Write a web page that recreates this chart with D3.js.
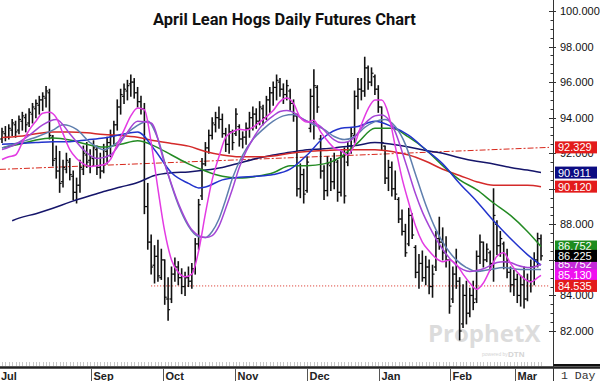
<!DOCTYPE html>
<html><head><meta charset="utf-8">
<script src="https://cdn.jsdelivr.net/npm/d3@7"></script>
<style>html,body{margin:0;padding:0;background:#fff;}svg{display:block;}</style>
</head><body>
<script>
// ---------- DATA ----------
const highs = [93.4,93.5,93.6,93.9,93.8,94.1,94.3,94.2,94.5,94.8,
95.0,95.2,95.4,95.75,95.6,93.0,92.4,92.1,91.6,92.0,
91.7,91.0,90.6,91.6,92.4,92.6,92.2,92.7,92.4,92.0,
92.5,92.9,93.3,93.8,95.0,95.6,95.9,96.1,96.4,96.2,
95.7,95.2,94.8,90.3,87.4,86.8,87.1,86.6,86.0,85.0,
85.6,86.1,85.9,85.5,85.3,85.6,85.8,87.2,89.4,91.7,
92.6,93.3,94.0,94.3,94.6,94.2,93.4,93.6,93.3,94.5,
93.6,93.2,93.7,94.3,94.6,94.5,94.9,94.7,95.2,95.7,
96.0,96.4,96.2,95.9,96.1,95.6,95.0,94.2,91.4,91.1,
91.8,95.6,96.7,95.8,93.0,91.3,91.8,91.7,92.0,91.6,
92.1,92.3,92.6,93.4,95.5,96.2,96.2,97.4,96.9,96.8,
96.4,95.8,94.6,92.4,91.6,91.5,91.0,89.5,88.8,88.0,
88.9,88.6,86.8,86.3,86.5,86.2,86.0,85.7,87.6,88.4,
87.8,87.3,86.0,85.6,86.6,85.0,84.6,84.8,84.4,84.8,
86.5,87.4,87.0,86.9,86.5,90.0,88.2,87.6,87.0,86.6,
85.6,85.4,85.2,85.1,85.6,85.2,86.0,86.4,87.5,87.4];
const lows = [92.6,92.7,92.8,93.0,92.9,93.1,93.3,93.2,93.5,93.7,
94.0,94.2,94.4,94.6,92.8,91.3,90.6,89.8,90.1,90.9,
90.5,89.4,89.2,89.8,90.8,91.2,90.9,91.3,90.8,90.6,
90.9,91.4,91.8,92.5,93.3,94.2,94.8,95.0,95.2,95.1,
94.6,94.2,88.6,86.6,85.2,84.7,84.8,84.9,83.5,82.6,
83.6,84.8,84.6,84.1,84.0,84.5,84.4,85.2,86.6,89.4,
91.3,92.0,92.8,93.2,93.4,92.9,92.1,92.0,92.2,93.0,
92.4,92.3,92.5,92.9,93.3,93.4,93.6,93.6,93.9,94.3,
94.7,95.0,95.2,94.8,95.0,94.4,93.8,89.6,89.5,89.2,
89.8,93.2,92.8,94.3,90.6,89.4,89.6,89.9,90.0,89.3,
89.6,89.2,91.3,92.0,92.6,94.5,95.0,95.2,95.6,95.8,
95.3,94.3,92.2,90.3,89.9,89.6,89.4,88.1,87.4,86.2,
86.8,87.2,85.0,84.4,84.8,84.6,84.1,83.9,85.4,86.6,
86.0,85.6,83.0,83.6,84.4,81.5,82.2,82.4,82.8,83.2,
83.6,85.8,85.6,85.9,85.4,84.8,86.3,86.2,85.5,85.0,
84.2,84.0,83.6,83.4,83.3,83.7,84.2,84.6,85.6,86.0];
const opens = [92.8,93.1,92.9,93.3,93.6,93.3,93.8,94.0,93.7,94.2,
94.5,94.7,95.0,95.1,95.4,92.9,91.7,91.0,90.4,91.1,
91.5,90.7,89.8,90.2,91.1,91.9,91.6,91.7,92.2,91.2,
91.0,92.1,92.6,93.0,93.6,94.6,95.2,95.5,95.9,96.0,
95.4,94.9,94.5,89.0,87.0,85.7,86.2,85.0,86.0,83.8,
83.8,85.2,85.6,85.0,84.5,85.0,84.8,85.5,86.9,89.6,
91.4,92.3,93.0,93.6,94.0,93.9,93.1,92.5,93.2,93.1,
93.5,92.8,92.9,93.4,94.0,94.2,93.8,94.5,94.0,95.0,
95.4,95.7,96.0,95.6,95.3,95.5,94.8,94.1,90.0,90.8,
89.9,93.4,95.2,95.7,92.8,91.0,89.9,91.3,90.4,91.5,
89.8,91.8,91.5,92.4,93.0,95.2,95.6,95.5,96.8,96.0,
96.3,95.6,94.6,92.4,90.6,91.2,90.0,89.4,88.3,87.6,
86.9,88.5,86.7,85.3,85.8,85.0,85.6,84.5,85.6,87.2,
87.0,86.4,86.0,83.8,85.2,84.8,82.4,84.0,83.0,84.0,
83.8,86.2,87.0,86.0,86.4,85.8,88.0,86.8,86.9,85.9,
85.3,84.6,84.9,84.0,84.6,83.8,84.8,85.6,86.0,87.2];
const closes = [93.2,92.9,93.4,93.7,93.2,93.9,94.1,93.6,94.3,94.6,
94.8,95.0,95.2,95.5,93.0,91.6,91.0,90.3,91.2,91.6,
90.8,89.8,90.2,91.2,92.0,91.5,91.8,92.3,91.2,91.0,
92.2,92.6,93.0,93.6,94.6,95.3,95.6,95.8,96.0,95.4,
94.9,94.5,89.0,87.0,85.6,86.2,85.1,86.0,83.9,83.2,
85.2,85.6,85.0,84.5,85.0,84.8,85.5,86.9,89.1,91.4,
92.3,93.0,93.7,94.0,93.9,93.1,92.5,93.2,92.6,94.2,
92.8,92.9,93.4,94.0,94.2,93.8,94.6,94.0,95.0,95.4,
95.7,96.1,95.6,95.3,95.8,94.8,94.1,90.0,90.8,89.7,
91.5,95.2,95.8,94.6,91.0,89.9,91.4,90.4,91.6,89.8,
91.8,89.6,92.4,93.1,95.2,95.6,95.5,96.8,96.0,96.5,
95.6,94.6,92.6,90.6,91.2,90.0,89.7,88.3,87.6,86.4,
88.5,87.4,85.3,85.8,85.0,85.6,84.5,85.2,87.2,87.0,
86.4,86.0,83.4,85.2,84.8,82.0,84.0,83.0,84.0,83.6,
86.2,87.0,86.0,86.6,85.8,88.5,86.8,87.2,85.9,85.3,
84.6,84.9,84.0,84.6,83.8,84.8,85.6,86.0,87.2,86.225];

// month boundaries (bar index) and labels
const monthLabels = ["Jul","Sep","Oct","Nov","Dec","Jan","Feb","Mar"];
const monthPos = [-0.6, 26.3, 47.5, 68.6, 89.9, 111.2, 132.2, 151.2];
const yTickValues = [82,84,86,88,90,92,94,96,98,100];

// moving averages: [bar index, value]
const maNavy = [[3,88.2],[5,88.35],[10,88.6],[15,88.9],[20,89.25],[25,89.55],[30,89.85],[35,90.1],[40,90.35],[45,90.75],[50,90.9],[55,90.95],[60,91.05],[65,91.2],[70,91.45],[75,91.7],[80,91.9],[85,92.05],[90,92.2],[95,92.25],[100,92.35],[105,92.45],[110,92.6],[115,92.5],[120,92.35],[125,92.15],[130,92.0],[135,91.75],[140,91.55],[145,91.4],[150,91.2],[155,91.05],[159,90.911]];
const maRed = [[0,92.88],[5,92.95],[10,93.1],[15,93.2],[20,93.2],[25,93.15],[30,93.05],[35,93.0],[40,92.9],[45,92.7],[50,92.55],[55,92.4],[60,92.1],[65,91.9],[70,91.8],[75,91.8],[80,91.85],[85,92.0],[90,92.1],[95,92.15],[100,92.2],[105,92.2],[110,92.2],[115,92.1],[120,91.9],[125,91.55],[130,91.1],[135,90.75],[140,90.4],[145,90.2],[150,90.2],[155,90.2],[159,90.12]];
const maGreen = [[0,92.3],[5,92.5],[10,92.75],[15,92.85],[20,92.75],[25,92.5],[30,92.35],[35,92.5],[40,92.7],[45,92.4],[50,91.9],[55,91.4],[60,91.0],[65,90.7],[70,90.6],[75,90.7],[80,90.9],[85,91.3],[90,91.3],[95,91.4],[100,91.8],[105,92.6],[110,93.4],[115,93.4],[120,92.9],[125,92.2],[130,91.3],[135,90.5],[140,89.95],[145,89.2],[150,88.5],[155,87.6],[159,86.752]];
const maBlue = [[0,92.5],[5,92.55],[10,92.6],[15,92.65],[20,92.65],[25,92.75],[30,92.85],[35,93.05],[40,93.2],[45,92.2],[50,90.9],[55,90.3],[58,90.05],[60,90.1],[65,90.5],[70,90.65],[75,90.7],[80,90.8],[85,91.1],[90,91.9],[95,92.9],[100,93.4],[105,93.5],[110,93.8],[115,93.5],[120,93.0],[125,92.2],[130,91.4],[135,90.3],[140,89.3],[145,88.2],[150,87.2],[155,86.3],[159,85.7]];
const maSteel = [[0,92.3],[5,92.6],[10,92.9],[15,93.3],[18,93.6],[22,93.34],[26,92.6],[30,92.2],[34,92.6],[38,93.3],[43,93.8],[46,92.8],[49,90.8],[52,89.1],[55,87.9],[58,87.3],[60,87.26],[62,87.6],[64,88.3],[66,89.4],[68,90.6],[71,91.9],[74,92.77],[77,93.34],[80,93.8],[83,94.1],[86,94.18],[89,93.9],[92,93.6],[95,93.34],[98,92.94],[101,92.77],[104,92.94],[107,93.45],[110,93.78],[113,93.9],[116,93.5],[119,92.5],[122,90.8],[125,89.1],[128,87.7],[131,86.7],[134,86.0],[137,85.57],[140,85.35],[144,85.46],[148,85.57],[153,85.46],[159,85.46]];
const maViolet = [[0,92.2],[4,92.5],[8,93.0],[12,93.6],[16,93.9],[20,93.1],[24,92.2],[28,91.7],[32,91.9],[36,92.9],[40,93.8],[44,93.7],[48,91.4],[52,89.2],[56,87.7],[60,87.26],[62,87.37],[64,87.9],[66,88.9],[68,90.0],[70,91.2],[72,92.1],[74,92.8],[76,93.4],[78,93.8],[80,94.1],[82,94.35],[84,94.4],[86,94.3],[88,94.0],[90,93.8],[92,93.7],[94,93.5],[96,93.1],[98,92.75],[100,92.6],[102,92.65],[104,92.9],[106,93.4],[108,93.85],[110,94.1],[112,94.15],[114,93.9],[116,93.2],[118,92.1],[120,90.9],[122,89.7],[124,88.7],[126,87.9],[128,87.2],[130,86.6],[132,86.1],[134,85.7],[136,85.45],[138,85.35],[140,85.4],[142,85.5],[144,85.68],[146,85.85],[148,85.9],[150,85.85],[152,85.7],[154,85.6],[156,85.57],[159,85.752]];
const maMagenta = [[0,91.65],[2,91.8],[4,91.9],[6,92.6],[8,93.3],[10,93.8],[12,94.25],[14,94.3],[16,94.0],[18,93.1],[20,92.2],[22,91.7],[24,91.4],[26,91.25],[28,91.3],[30,91.35],[32,91.65],[34,92.5],[36,93.3],[38,94.1],[40,94.55],[42,94.45],[44,92.6],[46,90.0],[48,87.6],[50,86.0],[52,85.3],[54,85.05],[56,85.2],[58,86.5],[60,88.6],[62,90.5],[64,91.8],[66,92.9],[68,93.2],[70,93.35],[72,93.3],[74,93.45],[76,93.75],[78,94.05],[80,94.4],[82,94.9],[84,95.1],[86,94.8],[88,94.0],[90,93.75],[92,93.85],[94,93.2],[96,92.7],[98,92.3],[100,92.15],[102,91.9],[104,92.5],[106,93.6],[108,94.5],[110,95.0],[112,95.0],[114,94.2],[116,92.4],[118,90.6],[120,89.2],[122,87.9],[124,87.0],[126,86.5],[128,86.1],[130,85.9],[132,86.0],[134,85.75],[136,85.2],[138,84.7],[140,84.35],[142,84.7],[144,85.45],[146,86.2],[148,86.4],[150,85.8],[152,85.3],[154,84.95],[156,84.75],[158,85.0],[159,85.13]];

// trend line (dash-dot) and support line (dotted)
const trendLine = [[-0.6,91.09],[161.4,92.329]];
const supportLine = [[44,84.535],[161.4,84.535]];

// right-axis value labels (drawn in this order)
const labelValues = [92.329, 90.911, 90.120, 86.752, 85.752, 86.225, 85.130, 84.535];
const labelColors = ["#e31b1b","#0c0c82","#e31b1b","#1e8c1e","#c42ad8","#000000","#f010f0","#e31b1b"];

// ---------- CHART ----------
const W = 600, H = 381;
const svg = d3.select("body").append("svg").attr("width", W).attr("height", H)
  .style("font-family", "'Liberation Sans', Arial, sans-serif");

const plotRight = 549, plotBottom = 366, axisX = 553.5;
const x = d3.scaleLinear().domain([0, 159]).range([2, 541]);
const y = d3.scaleLinear().domain([82, 100]).range([331, 11]);

svg.append("defs").append("clipPath").attr("id", "plotclip")
  .append("rect").attr("x", 0).attr("y", 0).attr("width", plotRight).attr("height", plotBottom);

// watermark
const wm = svg.append("g");
wm.append("text").attr("x", 428).attr("y", 342).text("ProphetX")
  .attr("font-family", "'Open Sans', 'Liberation Sans', sans-serif")
  .attr("font-weight", 700).attr("font-size", 24).attr("fill", "#dcdcdc");
wm.append("text").attr("x", 482).attr("y", 356).text("powered by")
  .attr("font-size", 5).attr("fill", "#d4d4d4");
wm.append("text").attr("x", 508).attr("y", 356.5).text("DTN")
  .attr("font-weight", 700).attr("font-size", 8).attr("fill", "#d4d4d4");

// title (fit to the reference width)
const title = svg.append("text").attr("x", 284.5).attr("y", 25).attr("text-anchor", "middle")
  .attr("font-family", "Roboto, 'Liberation Sans', sans-serif")
  .attr("font-weight", 700).attr("font-size", 17).attr("fill", "#111")
  .text("April Lean Hogs Daily Futures Chart");
const tl = title.node().getComputedTextLength();
if (tl > 0) title.attr("font-size", 17 * 263 / tl);

const plot = svg.append("g").attr("clip-path", "url(#plotclip)");

// reference lines
const refLine = d3.line().x(d => x(d[0])).y(d => y(d[1]));
plot.append("path").attr("d", refLine(trendLine)).attr("fill", "none")
  .attr("stroke", "#d8281c").attr("stroke-width", 1).attr("stroke-dasharray", "6,2,2,2");
plot.append("path").attr("d", refLine(supportLine)).attr("fill", "none")
  .attr("stroke", "#d8281c").attr("stroke-width", 1).attr("stroke-dasharray", "1,2");

// OHLC bars
const bars = plot.append("g").attr("stroke", "#111").attr("stroke-width", 1.6);
highs.forEach((h, i) => {
  const cx = x(i);
  bars.append("line").attr("x1", cx).attr("x2", cx).attr("y1", y(h) - 0.5).attr("y2", y(lows[i]) + 0.5);
  bars.append("line").attr("x1", cx - 2).attr("x2", cx).attr("y1", y(opens[i])).attr("y2", y(opens[i])).attr("stroke-width", 1.2);
  bars.append("line").attr("x1", cx).attr("x2", cx + 2).attr("y1", y(closes[i])).attr("y2", y(closes[i])).attr("stroke-width", 1.2);
});

// moving averages
const maLine = d3.line().x(d => x(d[0])).y(d => y(d[1])).curve(d3.curveMonotoneX);
const series = [
  [maNavy, "#15156a"], [maRed, "#d42a2a"], [maGreen, "#238a23"], [maBlue, "#2233cc"],
  [maSteel, "#5f7fae"], [maViolet, "#a545d6"], [maMagenta, "#e33be3"]
];
series.forEach(([data, color]) => {
  plot.append("path").attr("d", maLine(data)).attr("fill", "none")
    .attr("stroke", color).attr("stroke-width", 1.5).attr("stroke-linejoin", "round");
});

// bottom axis: per-bar minor ticks, thick base line, month ticks & labels
const minor = svg.append("g").attr("stroke", "#c8c8c8").attr("stroke-width", 1);
d3.range(0, highs.length).forEach(i => {
  minor.append("line").attr("x1", Math.round(x(i)) + 0.5).attr("x2", Math.round(x(i)) + 0.5)
    .attr("y1", 362).attr("y2", 366);
});
svg.append("line").attr("x1", 0).attr("x2", W).attr("y1", 367.5).attr("y2", 367.5)
  .attr("stroke", "#222").attr("stroke-width", 2.5);
monthPos.forEach((m, k) => {
  const mx = Math.round(x(m)) + 0.5;
  if (k > 0) svg.append("line").attr("x1", mx).attr("x2", mx).attr("y1", 369).attr("y2", H)
    .attr("stroke", "#555").attr("stroke-width", 1);
  svg.append("text").attr("x", k === 0 ? 1 : mx + 2).attr("y", 380)
    .attr("font-size", 11).attr("font-weight", 700).attr("fill", "#222").text(monthLabels[k]);
});

// right axis
svg.append("line").attr("x1", axisX).attr("x2", axisX).attr("y1", 0).attr("y2", H)
  .attr("stroke", "#333").attr("stroke-width", 1);
const ax = svg.append("g");
d3.range(82, 100.01, 0.5).forEach(v => {
  const major = Math.abs(v % 2) < 1e-6;
  const ty = Math.round(y(v)) + 0.5;
  ax.append("line").attr("x1", major ? 549 : 550.5).attr("x2", major ? 556 : axisX)
    .attr("y1", ty).attr("y2", ty).attr("stroke", "#333").attr("stroke-width", 1);
});
// tick labels that sit fully behind a value label are not shown (as in the reference)
yTickValues
  .filter(v => !labelValues.some(l => Math.abs(y(l) - y(v)) < 4.5))
  .forEach(v => {
    ax.append("text").attr("x", 560).attr("y", y(v)).attr("dy", "0.36em")
      .attr("font-size", 11).attr("fill", "#111").text(d3.format(".3f")(v));
  });

// value labels
labelValues.forEach((v, k) => {
  const ly = y(v);
  const g = svg.append("g");
  g.append("rect").attr("x", 555).attr("y", ly - 6).attr("width", 42).attr("height", 12)
    .attr("fill", labelColors[k]);
  g.append("text").attr("x", 558).attr("y", ly).attr("dy", "0.36em")
    .attr("font-size", 11).attr("fill", "#fff").text(d3.format(".3f")(v));
});

// interval box
svg.append("line").attr("x1", axisX).attr("x2", W).attr("y1", 365).attr("y2", 365)
  .attr("stroke", "#111").attr("stroke-width", 2);
svg.append("text").attr("x", 561).attr("y", 378.5)
  .attr("font-family", "'Liberation Mono', 'DejaVu Sans Mono', monospace")
  .attr("font-size", 11.5).attr("fill", "#333").text("1 Day");
</script>
</body></html>
